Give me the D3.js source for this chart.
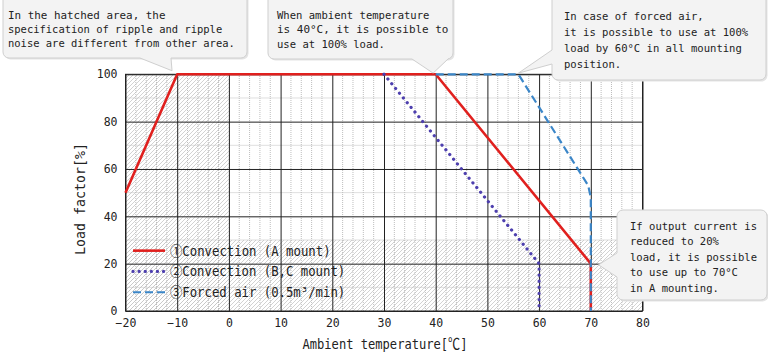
<!DOCTYPE html>
<html>
<head>
<meta charset="utf-8">
<script src="https://cdn.jsdelivr.net/npm/d3@7"></script>
<style>
  html, body { margin: 0; padding: 0; background: #fff; }
  svg { display: block; }
  text { font-family: "DejaVu Sans Mono", "Noto Sans CJK JP", monospace; fill: #222; }
</style>
</head>
<body>
<svg id="chart"></svg>
<script>
// derating curves, [ambient temperature, load factor]
const convectionA = [[-20, 50], [-10, 100], [40, 100], [70, 20], [70, 0]];
const convectionBC = [[30, 100], [60, 20], [60, 0]];
const forcedAir = [[40, 100], [56, 100], [69.5, 53], [70, 48], [70, 0]];

const xTicks = [-20, -10, 0, 10, 20, 30, 40, 50, 60, 70, 80];
const yTicks = [0, 20, 40, 60, 80, 100];

// hatched areas (ripple spec differs)
const hatchAreas = [
  { x0: -20, x1: 0, y0: 0, y1: 100 },
  { x0: -20, x1: 80, y0: 0, y1: 30 }
];

const legendLabels = ["①Convection (A mount)", "②Convection (B,C mount)", "③Forced air (0.5m³/min)"];

const notes = [
  { lines: ["In the hatched area,  the", "specification of ripple and ripple", "noise are different from other area."],
    tip: [-11, 101.5] },
  { lines: ["When ambient temperature", "is 40°C,  it is possible to", "use at 100% load."],
    tip: [39.5, 100.5] },
  { lines: ["In case of forced air,", "it is possible to use at 100%", "load by 60°C in all mounting", "position."],
    tip: [56, 100.5] },
  { lines: ["If output current is", "reduced to 20%", "load, it is possible", "to use up to 70°C", "in A mounting."],
    tip: [71.5, 19.5] }
];

const width = 768;
const height = 353;
const marginTop = 74.3;
const marginRight = 125.5;
const marginBottom = 42;
const marginLeft = 125.5;

const x = d3.scaleLinear().domain([-20, 80]).range([marginLeft, width - marginRight]);
const y = d3.scaleLinear().domain([0, 100]).range([height - marginBottom, marginTop]);

const svg = d3.select("#chart").attr("width", width).attr("height", height);

// half-width / full-width character count, like a Japanese gothic font
const units = s => Array.from(s).reduce((n, c) => n + (c.codePointAt(0) > 0x2000 ? 2 : 1), 0);

const pattern = svg.append("defs").append("pattern")
  .attr("id", "hatch")
  .attr("patternUnits", "userSpaceOnUse")
  .attr("width", 4).attr("height", 4);
pattern.append("path")
  .attr("d", "M-1,1 l2,-2 M0,4 l4,-4 M3,5 l2,-2")
  .attr("stroke", "#c6c6c6")
  .attr("stroke-width", 0.8);

svg.append("g").selectAll("rect")
  .data(hatchAreas)
  .join("rect")
  .attr("x", d => x(d.x0))
  .attr("y", d => y(d.y1))
  .attr("width", d => x(d.x1) - x(d.x0))
  .attr("height", d => y(d.y0) - y(d.y1))
  .attr("fill", "url(#hatch)");

// minor grid
const grid = svg.append("g");
grid.selectAll(".vminor")
  .data(d3.range(-20, 81, 2).filter(v => v % 10 !== 0))
  .join("line")
  .attr("x1", d => x(d)).attr("x2", d => x(d))
  .attr("y1", y(0)).attr("y2", y(100))
  .attr("stroke", "#bdbdbd").attr("stroke-dasharray", "1,1");
grid.selectAll(".hminor")
  .data(d3.range(10, 100, 20))
  .join("line")
  .attr("y1", d => y(d)).attr("y2", d => y(d))
  .attr("x1", x(-20)).attr("x2", x(80))
  .attr("stroke", "#bdbdbd").attr("stroke-dasharray", "1,1");

// axes with full-length major grid lines
svg.append("g")
  .attr("transform", `translate(0,${y(0)})`)
  .call(d3.axisBottom(x).tickValues(xTicks).tickSize(-(y(0) - y(100))).tickPadding(8))
  .call(g => g.select(".domain").remove())
  .call(g => g.selectAll(".tick line").attr("stroke", "#222"))
  .call(g => g.selectAll(".tick text").attr("font-size", 11.5).attr("fill", "#222")
    .attr("font-family", "DejaVu Sans Mono"));

svg.append("g")
  .attr("transform", `translate(${x(-20)},0)`)
  .call(d3.axisLeft(y).tickValues(yTicks).tickSize(-(x(80) - x(-20))).tickPadding(8))
  .call(g => g.select(".domain").remove())
  .call(g => g.selectAll(".tick line").attr("stroke", "#222"))
  .call(g => g.selectAll(".tick text").attr("font-size", 11.5).attr("fill", "#222")
    .attr("font-family", "DejaVu Sans Mono"));

svg.append("rect")
  .attr("x", x(-20)).attr("y", y(100))
  .attr("width", x(80) - x(-20)).attr("height", y(0) - y(100))
  .attr("fill", "none").attr("stroke", "#222");

// axis titles
svg.append("text")
  .attr("x", (x(-20) + x(80)) / 2 + 1).attr("y", 349)
  .attr("text-anchor", "middle").attr("font-size", 14.5)
  .attr("textLength", 165).attr("lengthAdjust", "spacingAndGlyphs")
  .text("Ambient temperature[℃]");

svg.append("text")
  .attr("transform", `translate(85,199) rotate(-90)`)
  .attr("text-anchor", "middle").attr("font-size", 14.5)
  .attr("textLength", 112).attr("lengthAdjust", "spacingAndGlyphs")
  .text("Load factor[%]");

// curves
const line = d3.line().x(d => x(d[0])).y(d => y(d[1]));
const styles = [
  { data: convectionA, color: "#e0201e", width: 2.6, dash: null, cap: "butt" },
  { data: convectionBC, color: "#4d3fae", width: 3.2, dash: "0.1,6", cap: "round" },
  { data: forcedAir, color: "#3b86c8", width: 2.2, dash: "8,4", cap: "butt" }
];
svg.append("g").selectAll("path")
  .data(styles)
  .join("path")
  .attr("d", d => line(d.data))
  .attr("fill", "none")
  .attr("stroke", d => d.color)
  .attr("stroke-width", d => d.width)
  .attr("stroke-dasharray", d => d.dash)
  .attr("stroke-linecap", d => d.cap)
  .attr("stroke-linejoin", "round");

// legend
const legend = svg.append("g").attr("transform", `translate(133,${y(25.5)})`);
const rows = legend.selectAll("g")
  .data(styles.map((s, i) => ({ ...s, label: legendLabels[i] })))
  .join("g")
  .attr("transform", (d, i) => `translate(0,${i * 20.8})`);
rows.append("line")
  .attr("x1", 0).attr("x2", 32)
  .attr("stroke", d => d.color)
  .attr("stroke-width", d => d.width)
  .attr("stroke-dasharray", d => d.dash)
  .attr("stroke-linecap", d => d.cap);
rows.append("text")
  .attr("x", 37).attr("y", 5)
  .attr("font-size", 14)
  .attr("textLength", d => units(d.label) * 7.3)
  .attr("lengthAdjust", "spacingAndGlyphs")
  .text(d => d.label);

// callouts
const boxes = [
  { x: 3, y: -8, w: 244, h: 66, base: [[140, 58], [171, 58]], tx: 8, ty: 18.5, lh: 14.4, cw: 6.3 },
  { x: 268, y: -8, w: 185, h: 67, base: [[412, 59], [448, 59]], tx: 277, ty: 18.5, lh: 14.8, cw: 6.35 },
  { x: 552, y: -8, w: 214, h: 88, base: [[552, 50], [552, 64]], tx: 564, ty: 19.5, lh: 16, cw: 6.35 },
  { x: 617, y: 210, w: 150, h: 90, base: [[617, 253], [617, 277]], tx: 630, ty: 229.5, lh: 15.6, cw: 6.35 }
];

const callouts = svg.append("g").selectAll("g")
  .data(notes.map((n, i) => ({ ...n, ...boxes[i] })))
  .join("g");

callouts.append("rect")
  .attr("x", d => d.x + 1.5).attr("y", d => d.y + 1.5)
  .attr("width", d => d.w).attr("height", d => d.h)
  .attr("rx", 6).attr("fill", "#e4e4e4");
callouts.append("rect")
  .attr("x", d => d.x).attr("y", d => d.y)
  .attr("width", d => d.w).attr("height", d => d.h)
  .attr("rx", 6).attr("fill", "#f3f3f3").attr("stroke", "#cfcfcf");
callouts.append("path")
  .attr("d", d => {
    const [a, b] = d.base;
    const t = [x(d.tip[0]), y(d.tip[1])];
    const ia = a[0] === d.x ? [a[0] + 1.5, a[1]] : [a[0], a[1] - 1.5];
    const ib = b[0] === d.x ? [b[0] + 1.5, b[1]] : [b[0], b[1] - 1.5];
    return `M${ia}L${a}L${t}L${b}L${ib}Z`;
  })
  .attr("fill", "#f3f3f3");
callouts.append("path")
  .attr("d", d => `M${d.base[0]}L${[x(d.tip[0]), y(d.tip[1])]}L${d.base[1]}`)
  .attr("fill", "none").attr("stroke", "#cfcfcf");

callouts.each(function(d) {
  d3.select(this).selectAll("text")
    .data(d.lines)
    .join("text")
    .attr("x", d.tx)
    .attr("y", (s, i) => d.ty + i * d.lh)
    .attr("font-size", 11)
    .attr("textLength", s => units(s) * d.cw)
    .attr("lengthAdjust", "spacingAndGlyphs")
    .text(s => s);
});
</script>
</body>
</html>
